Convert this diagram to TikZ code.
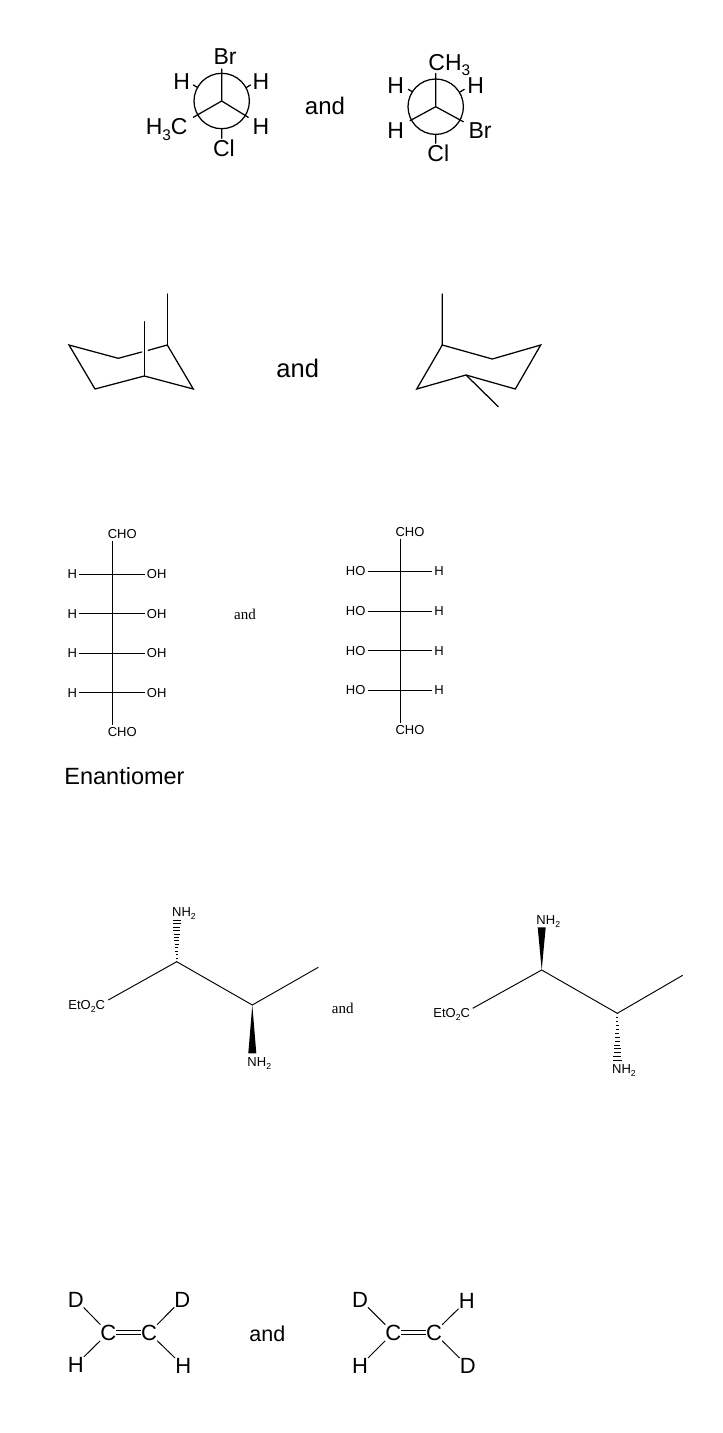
\documentclass[tikz,border=0pt]{standalone}
\usepackage{fontspec}
\setmainfont{Liberation Sans}
\newfontfamily\timesf{Liberation Serif}
\usetikzlibrary{calc}
\newcommand{\subn}[1]{\raisebox{-.22em}{\scalebox{.67}{#1}}}
\newcommand{\hashbond}[2]{%
  \foreach \t in {0,1,...,12}{%
    \pgfmathsetmacro{\hw}{0.5+3.7*\t/12}%
    \draw[line width=.8pt] ($(#1)!\t/12!(#2)+(-\hw,0)$) -- ($(#1)!\t/12!(#2)+(\hw,0)$);
  }}
\newcommand{\wedgebond}[2]{\fill[black] (#1) -- ($(#2)+(-4,0)$) -- ($(#2)+(4,0)$) -- cycle;}
\tikzset{
  bond/.style={line width=1.25pt,line cap=round,line join=miter},
  thin bond/.style={line width=.95pt,line join=miter},
  big/.style={inner sep=0pt,font=\fontsize{23}{23}\selectfont,text height=16.5pt,text depth=0pt},
  andbig/.style={inner sep=0pt,font=\fontsize{24}{24}\selectfont,text height=17pt,text depth=0pt},
  small/.style={inner sep=2pt,font=\fontsize{13}{13}\selectfont,text height=9.3pt,text depth=0pt},
  andserif/.style={inner sep=0pt,font=\timesf\fontsize{15}{15}\selectfont,text height=10pt,text depth=0pt},
  vinyl/.style={inner sep=0pt,font=\fontsize{22}{22}\selectfont,text height=15.8pt,text depth=0pt},
  newman/.style={circle,draw,line width=1.25pt,minimum size=55.4pt,inner sep=0pt},
}
\begin{document}
\begin{tikzpicture}[x=1pt,y=-1pt]
\useasboundingbox (0,0) rectangle (723,1433);
\fill[white] (0,0) rectangle (723,1433);

% --- Newman pair
\node[newman] (ca) at (221.7,101) {};
\coordinate (ca0) at (221.7,101);
\coordinate (aT) at (221.7,69);
\coordinate (aL) at (193.3,117.3);
\coordinate (aR) at (248.3,117.3);
\coordinate (aUL1) at (193.3,85); \coordinate (aUL2) at (197.7,87.5);
\coordinate (aUR1) at (250.5,85); \coordinate (aUR2) at (246.3,87.5);
\coordinate (aB1) at (221.7,129); \coordinate (aB2) at (221.7,138.3);
\draw[bond] (ca0) -- (aT) (ca0) -- (aL) (ca0) -- (aR)
  (aUL1) -- (aUL2) (aUR1) -- (aUR2) (aB1) -- (aB2);
\node[big] (aBr) at (225,56) {Br};
\node[big] (aH1) at (181.7,81) {H};
\node[big] (aH2) at (261,81) {H};
\node[big] (aH3) at (261,126.7) {H};
\node[big] (aMe) at (166.7,126.7) {H\subn{3}C};
\node[big] (aCl) at (224,148.3) {Cl};
\node[andbig] (and1) at (325,105.5) {and};

\node[newman] (cb) at (435.7,106.7) {};
\coordinate (cb0) at (435.7,106.7);
\coordinate (bT) at (435.7,73.5);
\coordinate (bL) at (410,120.7);
\coordinate (bR) at (463.3,121.7);
\coordinate (bUL1) at (408.3,89.3); \coordinate (bUL2) at (412.7,92);
\coordinate (bUR1) at (464.3,89.3); \coordinate (bUR2) at (460,92);
\coordinate (bB1) at (435.7,134.4); \coordinate (bB2) at (435.7,143.3);
\draw[bond] (cb0) -- (bT) (cb0) -- (bL) (cb0) -- (bR)
  (bUL1) -- (bUL2) (bUR1) -- (bUR2) (bB1) -- (bB2);
\node[big] (bMe) at (449.3,62) {CH\subn{3}};
\node[big] (bH1) at (395.7,85) {H};
\node[big] (bH2) at (475.7,85) {H};
\node[big] (bH3) at (395.7,130) {H};
\node[big] (bBr) at (480,130) {Br};
\node[big] (bCl) at (438.3,153.3) {Cl};

% --- Chairs
\coordinate (l1) at (69,345);
\coordinate (l2) at (118.3,358.3);
\coordinate (l3) at (167.3,345);
\coordinate (l4) at (193.3,389);
\coordinate (l5) at (144.3,376);
\coordinate (l6) at (95,389);
\coordinate (lg1) at (141.7,352);
\coordinate (lg2) at (148.3,350.3);
\coordinate (lm1) at (167.3,294);
\coordinate (lm2) at (144.3,321.7);
\draw[bond] (lg1) -- (l2) -- (l1) -- (l6) -- (l5) -- (l4) -- (l3) -- (lg2);
\draw[bond] (l3) -- (lm1) (l5) -- (lm2);
\node[inner sep=0pt,font=\fontsize{25.5}{25.5}\selectfont,text height=18pt,text depth=0pt] (and2) at (297.7,368) {and};

\coordinate (r1) at (442.3,345);
\coordinate (r2) at (492.3,359);
\coordinate (r3) at (540.7,345);
\coordinate (r4) at (515.3,389);
\coordinate (r5) at (466,375);
\coordinate (r6) at (416.7,389);
\coordinate (rm1) at (442.3,294);
\coordinate (rm2) at (498.3,406.7);
\draw[bond] (r1) -- (r2) -- (r3) -- (r4) -- (r5) -- (r6) -- cycle;
\draw[bond] (r1) -- (rm1) (r5) -- (rm2);

% --- Fischer pair
\node[small] (fTop) at (122.3,534) {CHO};
\node[small] (fBot) at (122.3,731.7) {CHO};
\coordinate (fv) at (112.7,600);
\draw[thin bond] (fv |- fTop.south) -- (fv |- fBot.north);
\foreach \i/\y in {1/574,2/613.7,3/653.3,4/692.7}{
  \node[small] (fH\i) at (72.3,\y) {H};
  \node[small] (fO\i) at (156.7,\y) {OH};
  \draw[thin bond] (fH\i) -- (fO\i);
}
\node[andserif] (and3) at (245,614.5) {and};
\node[small] (gTop) at (410,531.7) {CHO};
\node[small] (gBot) at (410,730) {CHO};
\coordinate (gv) at (400.3,600);
\draw[thin bond] (gv |- gTop.south) -- (gv |- gBot.north);
\foreach \i/\y in {1/571.3,2/611,3/650.7,4/690.3}{
  \node[small] (gO\i) at (355.7,\y) {HO};
  \node[small] (gH\i) at (439,\y) {H};
  \draw[thin bond] (gO\i) -- (gH\i);
}
\node[inner sep=0pt,font=\fontsize{23.5}{23.5}\selectfont,text height=16.8pt,text depth=0pt] (enan) at (124.5,775.7) {Enantiomer};

% --- Amino esters
\node[small,inner sep=0pt] (hE) at (86.7,1005) {EtO\subn{2}C};
\node[small,inner sep=0pt] (hN1) at (184,911.7) {NH\subn{2}};
\node[small,inner sep=0pt] (hN2) at (259.3,1061.7) {NH\subn{2}};
\coordinate (h0) at (108.3,1000);
\coordinate (h1) at (176.7,961.7);
\coordinate (h2) at (252.3,1005);
\coordinate (h3) at (318.3,967.3);
\coordinate (hh) at (176.7,920);
\coordinate (hw) at (252.3,1053.3);
\draw[thin bond] (h0) -- (h1) -- (h2) -- (h3);
\hashbond{h1}{hh}
\wedgebond{h2}{hw}
\node[andserif] (and4) at (342.7,1008.5) {and};

\node[small,inner sep=0pt] (kE) at (451.7,1013.3) {EtO\subn{2}C};
\node[small,inner sep=0pt] (kN1) at (548.3,920) {NH\subn{2}};
\node[small,inner sep=0pt] (kN2) at (624,1069) {NH\subn{2}};
\coordinate (k0) at (472.7,1008.3);
\coordinate (k1) at (541.7,970);
\coordinate (k2) at (617.3,1013.3);
\coordinate (k3) at (682.7,975.3);
\coordinate (kw) at (541.7,927.3);
\coordinate (kh) at (617.3,1060.7);
\draw[thin bond] (k0) -- (k1) -- (k2) -- (k3);
\wedgebond{k1}{kw}
\hashbond{k2}{kh}

% --- Alkenes
\node[vinyl] (pD1) at (75.7,1299.3) {D};
\node[vinyl] (pD2) at (182.3,1299.3) {D};
\node[vinyl] (pC1) at (108.3,1332.7) {C};
\node[vinyl] (pC2) at (149,1332.7) {C};
\node[vinyl] (pH1) at (75.7,1365) {H};
\node[vinyl] (pH2) at (183.3,1366) {H};
\draw[thin bond] (pD1) -- (pC1) (pH1) -- (pC1) (pD2) -- (pC2) (pH2) -- (pC2);
\draw[thin bond] ([yshift=1.8pt]pC1.east) -- ([yshift=1.8pt]pC2.west)
  ([yshift=-1.8pt]pC1.east) -- ([yshift=-1.8pt]pC2.west);
\node[inner sep=0pt,font=\fontsize{21.5}{21.5}\selectfont,text height=15.4pt,text depth=0pt] (and5) at (267.3,1334) {and};

\node[vinyl] (qD1) at (360,1299.3) {D};
\node[vinyl] (qH2) at (466.7,1300.7) {H};
\node[vinyl] (qC1) at (393.3,1332.7) {C};
\node[vinyl] (qC2) at (434,1332.7) {C};
\node[vinyl] (qH1) at (360,1366) {H};
\node[vinyl] (qD2) at (467.7,1366) {D};
\draw[thin bond] (qD1) -- (qC1) (qH1) -- (qC1) (qH2) -- (qC2) (qD2) -- (qC2);
\draw[thin bond] ([yshift=1.8pt]qC1.east) -- ([yshift=1.8pt]qC2.west)
  ([yshift=-1.8pt]qC1.east) -- ([yshift=-1.8pt]qC2.west);
\end{tikzpicture}
\end{document}
